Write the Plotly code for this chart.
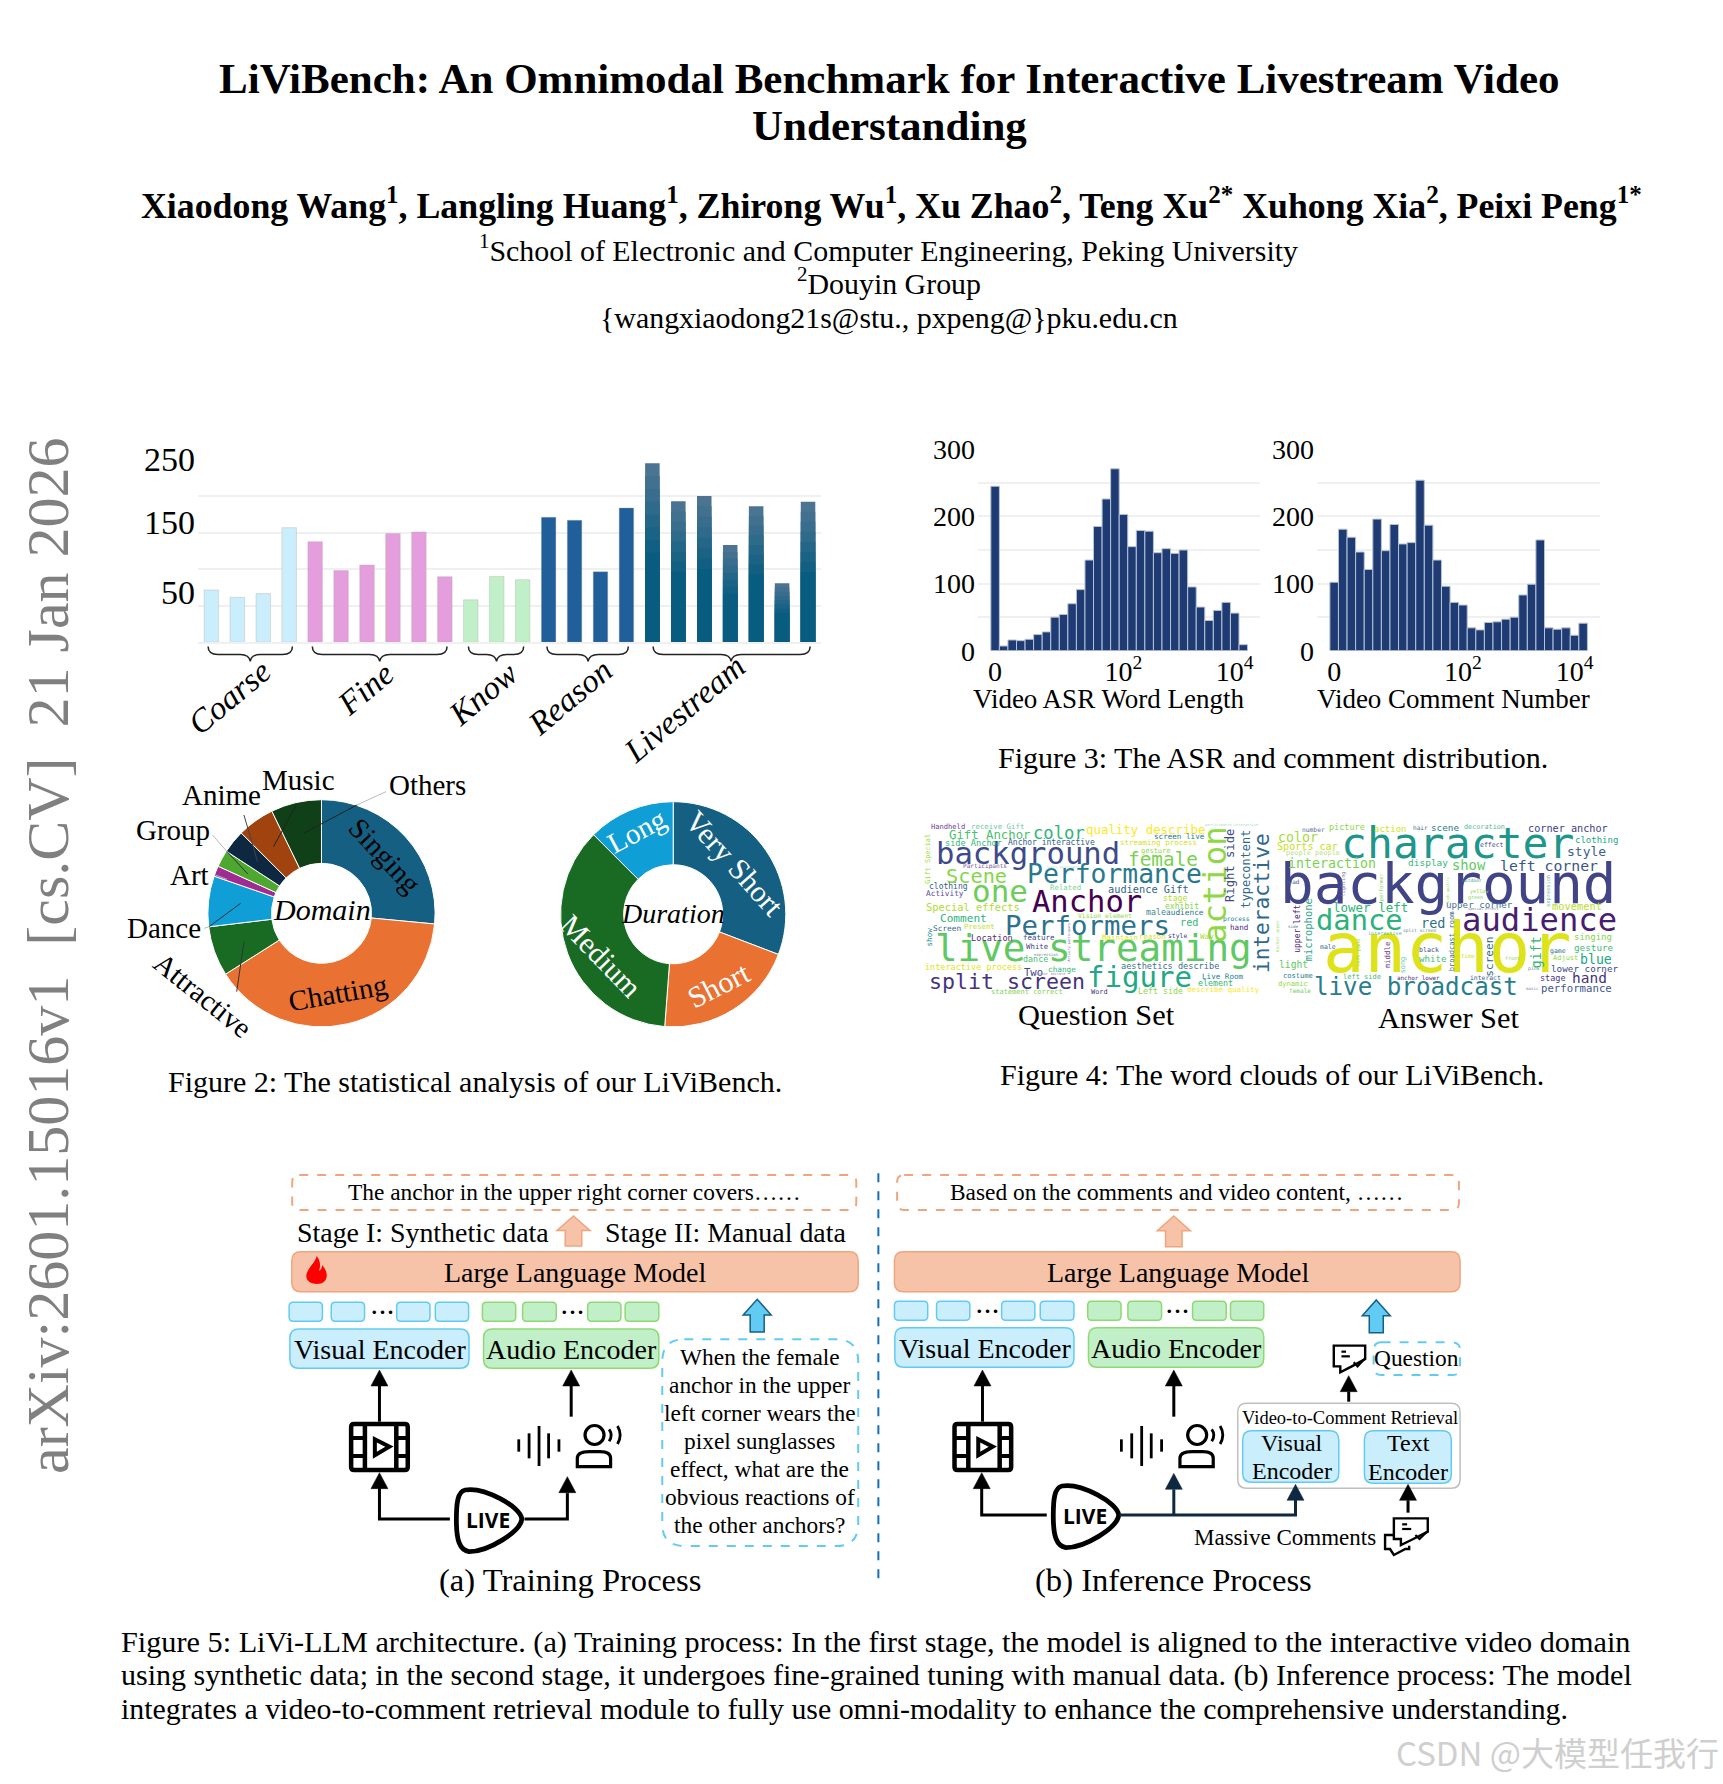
import plotly.graph_objects as go

W, H = 1723, 1784
SERIF = "Liberation Serif"
MONO = "DejaVu Sans Mono"

# ---------- chart data ----------
coarse = [71.5, 61.5, 66.5, 156.6]
fine = [137.5, 98, 105.6, 148.5, 150.7, 89.7]
know = [58, 90, 85.6]
reason = [170.8, 166.7, 96.5, 183.5]
livestream = [244.5, 192.6, 200, 133, 186, 80.6, 192]
group_labels = ["Coarse", "Fine", "Know", "Reason", "Livestream"]

domain_labels = ["Singing", "Chatting", "Attractive", "Dance", "Art", "Group", "Anime", "Music", "Others"]
domain_values = [26.5, 39.5, 7.1, 7.2, 1.5, 2.4, 3.3, 5.3, 7.2]
domain_colors = ["#156082", "#E97132", "#196B24", "#0F9ED5", "#A02B93", "#4EA72E", "#0E2841", "#A0430F", "#0F4018"]
duration_labels = ["Very Short", "Short", "Medium", "Long"]
duration_values = [30.8, 20.4, 36.3, 12.5]
duration_colors = ["#156082", "#E97132", "#196B24", "#0F9ED5"]

asr_hist = [245, 7, 16, 15, 17, 24, 28, 50, 54, 70, 91, 135, 185, 226, 271, 203, 155, 179, 178, 146, 152, 145, 150, 95, 65, 45, 60, 72, 56, 9]
comment_hist = [102, 181, 169, 147, 121, 196, 149, 188, 159, 161, 254, 187, 135, 96, 72, 68, 34, 31, 42, 43, 47, 50, 83, 99, 165, 34, 32, 34, 23, 41]
hist_tick_pos = [0, 15, 28]
hist_tick_text = ["0", "10<sup>2</sup>", "10<sup>4</sup>"]

# word clouds: word, left, right, centre (or centre, top, bottom for rotated), colour
cloud_q = [
    ("background", 62, 615, 145, "#3e4a89"), ("live streaming", 60, 1010, 430, "#5ec962"), ("Anchor", 350, 680, 290, "#440154"),
    ("Performers", 270, 765, 362, "#2c728e"), ("Performance", 335, 860, 207, "#29798e"), ("one", 172, 340, 258, "#6ccd5a"),
    ("figure", 515, 830, 515, "#22a884"), ("split screen", 42, 510, 530, "#46337e"), ("Scene", 92, 275, 212, "#86d549"),
    ("female", 640, 850, 165, "#7ad151"), ("color", 355, 510, 83, "#2fb47c"), ("quality describe", 512, 870, 72, "#fde725"),
    ("Gift Anchor", 100, 345, 90, "#4ac16d"), ("side Anchor", 92, 262, 113, "#35b779"), ("Anchor interactive", 280, 540, 113, "#33638d"),
    ("streaming process", 615, 845, 113, "#d0e11c"), ("screen live", 720, 870, 95, "#2a788e"), ("gesture", 680, 768, 137, "#8fd744"),
    ("Handheld", 47, 150, 65, "#6a3d8f"), ("receive Gift", 168, 328, 65, "#73c9a5"), ("Participants", 143, 275, 184, "#7a5195"),
    ("clothing", 42, 158, 245, "#35608d"), ("Activity", 33, 145, 267, "#5a4a9a"), ("Related", 405, 498, 248, "#7fd397"),
    ("audience Gift", 578, 820, 252, "#33638d"), ("stage", 745, 818, 278, "#b5de2b"), ("exhibit", 750, 852, 302, "#86d549"),
    ("Special effects", 33, 315, 305, "#addc30"), ("Comment", 75, 215, 340, "#2db27d"), ("male", 692, 752, 322, "#3b8a8c"),
    ("audience", 755, 868, 322, "#2c728e"), ("Vision element", 488, 650, 332, "#90d743"), ("red", 795, 850, 352, "#35b779"),
    ("process", 925, 1005, 342, "#26828e"), ("Screen", 55, 140, 369, "#31688e"), ("Present", 148, 240, 365, "#c2df23"),
    ("hand", 945, 1000, 368, "#482878"), ("Location", 170, 295, 398, "#5c2a80"), ("feature", 325, 420, 398, "#3e4989"),
    ("Maintain", 562, 670, 398, "#e5e419"), ("reason", 672, 752, 395, "#d8e219"), ("style", 760, 818, 393, "#46327e"),
    ("Way", 857, 898, 395, "#a5db36"), ("White", 333, 400, 423, "#3f4889"), ("dance", 322, 398, 463, "#4ac16d"),
    ("interactive process", 30, 322, 487, "#e2e418"), ("change", 400, 483, 493, "#35b779"), ("Two", 328, 385, 500, "#3e4989"),
    ("aesthetics describe", 618, 912, 483, "#3e6f90"), ("Live Room", 862, 985, 513, "#26828e"), ("element", 850, 955, 535, "#35b779"),
    ("Left side", 670, 805, 558, "#8fd744"), ("describe quality", 818, 1035, 555, "#fde725"), ("statement correct", 228, 442, 560, "#7fd34e"),
    ("Word", 528, 578, 560, "#46327e"), ("participants interactive", 870, 1030, 60, "#a8e0c0"), ("Anchor imitate", 360, 450, 506, "#9a8ab8"),
    ("expression", 358, 430, 450, "#6a8aa8"), ("supply participants", 395, 495, 186, "#a0d8c0"),
]
cloud_q_v = [
    ("action", 900, 65, 415, "#8fd744"), ("Right side", 945, 70, 290, "#3e4989"),
    ("typecontent", 990, 75, 312, "#31688e"), ("show", 42, 370, 425, "#21918c"), ("Gift Special", 40, 85, 235, "#9bd93c"),
    ("Activity participate", 462, 355, 470, "#6a5a9a"),
]
cloud_a = [
    ("background", 75, 1085, 235, "#414487"), ("anchor", 205, 950, 428, "#dde318"), ("character", 260, 960, 115, "#1f968b"),
    ("audience", 620, 1085, 345, "#481d6f"), ("dance", 185, 445, 345, "#2db27d"), ("live broadcast", 178, 790, 547, "#287d8e"),
    ("left corner", 735, 1030, 180, "#39568c"), ("interaction", 100, 365, 175, "#7ad151"), ("show", 592, 692, 180, "#5ec962"),
    ("display", 460, 580, 172, "#32b67a"), ("color", 70, 190, 97, "#a5db36"), ("Sports car", 68, 250, 125, "#c8e020"),
    ("people people", 92, 255, 145, "#b8de8a"), ("corner anchor", 818, 1058, 70, "#433e85"), ("clothing", 960, 1090, 104, "#22a785"),
    ("style", 935, 1052, 140, "#3e6089"), ("picture", 222, 330, 67, "#8bd646"), ("action", 358, 455, 72, "#d8e219"),
    ("scene", 528, 612, 68, "#287c8e"), ("decoration", 628, 750, 65, "#56b8a0"), ("number", 142, 210, 73, "#5a6e9c"),
    ("hair", 476, 520, 68, "#3a6f8e"), ("effect", 675, 745, 120, "#3e4a89"), ("lower left", 235, 460, 306, "#2eb37c"),
    ("upper corner", 572, 772, 297, "#46718e"), ("movement", 892, 1042, 303, "#b8de29"), ("red", 497, 570, 354, "#2c728e"),
    ("singing", 958, 1072, 395, "#7fd34e"), ("gesture", 958, 1075, 427, "#3fbc73"), ("blue", 975, 1070, 463, "#21a585"),
    ("lower corner", 888, 1090, 490, "#3e4a89"), ("hand", 950, 1055, 520, "#46327e"), ("stage", 855, 932, 518, "#453781"),
    ("performance", 860, 1072, 550, "#42578f"), ("Adjust", 892, 968, 460, "#8fd744"), ("game", 885, 932, 438, "#2e6e8e"),
    ("light", 72, 160, 478, "#5ec962"), ("white", 490, 572, 462, "#3fbc73"), ("black", 492, 552, 436, "#3e4a89"),
    ("costume", 85, 175, 512, "#26828e"), ("dynamic", 70, 160, 535, "#8fd744"), ("female", 102, 168, 556, "#6ece58"),
    ("left side", 265, 378, 517, "#3dbc74"), ("anchor lower", 428, 555, 518, "#482878"), ("interact", 645, 738, 518, "#3e5b8e"),
    ("male", 195, 242, 426, "#3e6a8e"), ("split screen", 445, 545, 378, "#5a8a8c"), ("interactive", 338, 440, 383, "#66a8a8"),
    ("green", 640, 685, 278, "#7ad151"), ("yellow", 645, 700, 258, "#8bd646"), ("side", 100, 130, 364, "#46718e"),
    ("special effect", 640, 730, 312, "#8a7ab0"), ("head", 92, 135, 230, "#4a5a90"), ("outdoor", 620, 680, 228, "#3a9a8e"),
    ("time", 618, 660, 452, "#d8e219"), ("front", 750, 795, 458, "#7fd34e"), ("pink", 820, 855, 490, "#6a8aa8"), ("music", 812, 850, 552, "#8a7ab0"),
]
cloud_a_v = [
    ("interactive", 20, 85, 505, "#31688e"), ("upper left", 125, 300, 445, "#482475"), ("microphone", 160, 280, 470, "#33a88a"),
    ("performer", 378, 205, 288, "#7ad151"), ("left pane", 310, 400, 485, "#8fd744"), ("broadcast room", 590, 320, 500, "#3e6a8e"),
    ("screen", 705, 395, 515, "#31688e"), ("gift", 845, 395, 490, "#35b779"), ("middle", 400, 410, 490, "#6a3d8f"),
    ("song", 445, 455, 505, "#5cc8a0"), ("lighting", 265, 200, 275, "#8a7ab0"), ("high quality", 580, 215, 295, "#a0d860"),
    ("expression", 882, 210, 305, "#6ab0a0"), ("Anchor upper", 70, 345, 440, "#a0d860"),
]

title_lines = ["LiViBench: An Omnimodal Benchmark for Interactive Livestream Video", "Understanding"]
authors = ("Xiaodong Wang<sup>1</sup>, Langling Huang<sup>1</sup>, Zhirong Wu<sup>1</sup>, Xu Zhao<sup>2</sup>, "
           "Teng Xu<sup>2*</sup> Xuhong Xia<sup>2</sup>, Peixi Peng<sup>1*</sup>")
fig5_lines = [
    "Figure 5: LiVi-LLM architecture. (a) Training process: In the first stage, the model is aligned to the interactive video domain",
    "using synthetic data; in the second stage, it undergoes fine-grained tuning with manual data. (b) Inference process: The model",
    "integrates a video-to-comment retrieval module to fully use omni-modality to enhance the comprehensive understanding.",
]
question_lines = ["When the female", "anchor in the upper", "left corner wears the", "pixel sunglasses", "effect, what are the", "obvious reactions of", "the other anchors?"]


# ---------- page helpers ----------
def X(x): return round(x / W, 5)
def Y(y): return round(1 - y / H, 5)

shapes, annos = [], []

def T(x, y, text, size=27, color="black", angle=0, family=SERIF, italic=False, bold=False, xanchor="center", yanchor="middle"):
    annos.append(dict(xref="paper", yref="paper", x=X(x), y=Y(y), text=text, showarrow=False, textangle=angle,
                      xanchor=xanchor, yanchor=yanchor, borderpad=0,
                      font=dict(family=family, size=size, color=color, style="italic" if italic else "normal",
                                weight="bold" if bold else "normal")))

def P(x, y): return f"{X(x)},{Y(y)}"

def path(d, fill=None, color=None, lw=1, dash=None):
    s = dict(type="path", xref="paper", yref="paper", path=d, line=dict(color=color or "rgba(0,0,0,0)", width=lw if color else 0))
    if dash: s["line"]["dash"] = dash
    if fill: s["fillcolor"] = fill
    shapes.append(s)

def poly(pts, fill=None, color=None, lw=1, closed=True, dash=None):
    d = "M " + " L ".join(P(*p) for p in pts) + (" Z" if closed else "")
    path(d, fill, color, lw, dash)

def rrect(x0, y0, x1, y1, r, fill=None, color=None, lw=1.5, dash=None):
    d = (f"M {P(x0+r,y0)} L {P(x1-r,y0)} Q {P(x1,y0)} {P(x1,y0+r)} L {P(x1,y1-r)} Q {P(x1,y1)} {P(x1-r,y1)} "
         f"L {P(x0+r,y1)} Q {P(x0,y1)} {P(x0,y1-r)} L {P(x0,y0+r)} Q {P(x0,y0)} {P(x0+r,y0)} Z")
    path(d, fill, color, lw, dash)

def arrow_up(x, y0, y1, color="black", lw=3, hw=8.5, hl=16):
    poly([(x, y0), (x, y1 + hl)], None, color, lw, closed=False)
    poly([(x - hw, y1 + hl), (x + hw, y1 + hl), (x, y1)], color, color, 0.5)

def block_up(x, top, bot, hw, fill, color):
    sw = hw * 0.5
    mid = top + (bot - top) * 0.48
    poly([(x, top), (x + hw, mid), (x + sw, mid), (x + sw, bot), (x - sw, bot), (x - sw, mid), (x - hw, mid)], fill, color, 1.5)


# ---------- Figure 1 chart furniture ----------
Z1 = lambda zx, zy: (100 + zx / 2.063, 420 + zy / 3)
for lab, y in [("250", 459), ("150", 523), ("50", 592)]:
    T(196, y, lab, 34, xanchor="right")

def brace(x0, x1, tip, top, mid, bot, color="#222"):
    d = (f"M {P(x0,top)} Q {P(x0,mid)} {P(x0+10,mid)} L {P(tip-10,mid)} Q {P(tip-1,mid)} {P(tip,bot)} "
         f"Q {P(tip+1,mid)} {P(tip+10,mid)} L {P(x1-10,mid)} Q {P(x1,mid)} {P(x1,top)}")
    path(d, None, color, 1.5)

for zx0, zx1, ztip in [(223, 397, 310), (438, 716, 577), (760, 874, 818), (922, 1090, 1007), (1141, 1465, 1302)]:
    brace(Z1(zx0, 0)[0], Z1(zx1, 0)[0], Z1(ztip, 0)[0], 646.5, 654.5, 661.5)

for lab, (zx, zy) in zip(group_labels, [(268, 832), (548, 808), (790, 822), (970, 832), (1205, 866)]):
    x, y = Z1(zx, zy)
    T(x, y, lab, 33, angle=-40, italic=True)


# ---------- Figure 2 labels ----------
Z2 = lambda zx, zy: (100 + zx / 2.063, 750 + zy / 3)
for pts, col in [
    ([(590, 125), (530, 165)], "#bbbbbb"), ([(530, 165), (420, 250)], "#222222"),
    ([(405, 165), (358, 290)], "#222222"), ([(297, 195), (325, 335)], "#444444"),
    ([(232, 255), (262, 305)], "#bbbbbb"), ([(262, 305), (305, 372)], "#333333"),
    ([(238, 375), (262, 388)], "#bbbbbb"), ([(215, 535), (225, 530)], "#bbbbbb"), ([(225, 530), (290, 460)], "#333333"),
    ([(297, 575), (282, 725)], "#333333"),
]:
    poly([Z2(*p) for p in pts], None, col, 1, closed=False)

def tz2(lab, zx, zy, size=29, angle=0, color="black", italic=False):
    x, y = Z2(zx, zy)
    T(x, y, lab, size, color=color, angle=angle, italic=italic)

tz2("Singing", 587, 315, 29, 47)
tz2("Chatting", 490, 730, 29, -10)
tz2("Domain", 457, 478, 30, italic=True)
tz2("Music", 410, 90)
tz2("Others", 675, 105)
tz2("Anime", 250, 135)
tz2("Group", 150, 240)
tz2("Art", 185, 375)
tz2("Dance", 133, 533)
tz2("Attractive", 212, 735, 29, 39)
tz2("Very Short", 1310, 340, 30, 48, "white")
tz2("Short", 1278, 705, 30, -27, "white")
tz2("Medium", 1033, 618, 30, 46, "white")
tz2("Long", 1107, 243, 29, -28, "white")
tz2("Duration", 1182, 490, 28, italic=True)
T(475.5, 1082, "Figure 2: The statistical analysis of our LiViBench.", 30)


# ---------- word clouds ----------
def clouds(rows, rows_v, x0, y0=805):
    for word, a, b, c, col in rows:
        size = (b - a) / 3 / (0.602 * len(word))
        T(x0 + (a + b) / 6, y0 + c / 3, word, round(size, 1), col, family=MONO)
    for word, c, a, b, col in rows_v:
        size = (b - a) / 3 / (0.602 * len(word))
        T(x0 + c / 3, y0 + (a + b) / 6, word, round(size, 1), col, angle=-90, family=MONO)

clouds(cloud_q, cloud_q_v, 915)
clouds(cloud_a, cloud_a_v, 1255)
T(1096.5, 1015, "Question Set", 30.4)
T(1448.7, 1018, "Answer Set", 30.4)
T(1272, 1074, "Figure 4: The word clouds of our LiViBench.", 30)
T(1272.5, 757, "Figure 3: The ASR and comment distribution.", 30)
T(1109, 699, "Video ASR Word Length", 27)
T(1453, 699, "Video Comment Number", 27)


# ---------- Figure 5 diagram ----------
CB, SB = "#CAEEFB", "#61CBF3"
CG, SG = "#C1F0C8", "#8ED973"
CO, SO = "#F6C3A9", "#EFA57E"

def film(q):
    rrect(*q(0, 0), *q(148, 138), 3, None, "black", 4.5)
    poly([q(36, 0), q(36, 138)], None, "black", 4.5, closed=False)
    poly([q(118, 0), q(118, 138)], None, "black", 4.5, closed=False)
    for yy in (42, 96):
        poly([q(0, yy), q(36, yy)], None, "black", 4, closed=False)
        poly([q(118, yy), q(148, yy)], None, "black", 4, closed=False)
    poly([q(62, 46), q(100, 68), q(62, 94)], None, "black", 4)

def voice(m):
    for zx, a, b in [(0, 40, 77), (27, 22, 97), (53, 0, 120), (78, 22, 97), (105, 40, 77)]:
        poly([m(zx, a), m(zx, b)], None, "black", 2.8, closed=False)
    hx, hy = m(198, 27)
    r = 9.5
    k = 0.55 * r
    path(f"M {P(hx-r,hy)} C {P(hx-r,hy-k)} {P(hx-k,hy-r)} {P(hx,hy-r)} C {P(hx+k,hy-r)} {P(hx+r,hy-k)} {P(hx+r,hy)} "
         f"C {P(hx+r,hy+k)} {P(hx+k,hy+r)} {P(hx,hy+r)} C {P(hx-k,hy+r)} {P(hx-r,hy+k)} {P(hx-r,hy)} Z", None, "black", 3.2)
    a, b, c2, d, e, f = m(153, 122), m(153, 97), m(153, 77), m(185, 77), m(240, 97), m(240, 122)
    path(f"M {P(*a)} L {P(*b)} Q {P(*c2)} {P(*d)} L {P(m(212,77)[0],d[1])} Q {P(*m(240,77))} {P(*e)} L {P(*f)} Z", None, "black", 3.2)
    path(f"M {P(*m(236,10))} Q {P(*m(247,27))} {P(*m(236,46))}", None, "black", 2.8)
    path(f"M {P(*m(258,0))} Q {P(*m(272,27))} {P(*m(258,54))}", None, "black", 2.8)

def live(m):
    path(f"M {P(*m(23,8))} C {P(*m(73,-2))} {P(*m(168,58))} {P(*m(171,95))} C {P(*m(168,133))} {P(*m(83,193))} {P(*m(33,193))} "
         f"C {P(*m(8,188))} {P(*m(0,158))} {P(*m(0,98))} C {P(*m(0,48))} {P(*m(3,13))} {P(*m(23,8))} Z", "white", "black", 4.8)
    x, y = m(83, 98)
    T(x, y, "LIVE", 21, family="Open Sans", bold=True)

def comment(m):
    poly([m(0, 0), m(82, 0), m(82, 40), m(47, 62), m(17, 80), m(17, 62), m(0, 62)], None, "black", 2.4)
    poly([m(20, 18), m(32, 18)], None, "black", 2.2, closed=False)
    poly([m(20, 32), m(42, 32)], None, "black", 2.2, closed=False)
    poly([m(52, 50), m(62, 62), m(80, 40)], None, "black", 2.2, closed=False)

A = lambda zx, zy: (270 + zx / 2.613, 1150 + zy / 3)
B = lambda zx, zy: (860 + zx / 2.613, 1150 + zy / 3)

def rz(m, x0, y0, x1, y1, r, fill=None, color=None, lw=1.5, dash=None):
    rrect(*m(x0, y0), *m(x1, y1), r, fill, color, lw, dash)

def tz(m, zx, zy, text, size=27, **kw):
    T(*m(zx, zy), text, size, **kw)

def az(m, zx, zy0, zy1, **kw):
    x, y0 = m(zx, zy0)
    arrow_up(x, y0, m(zx, zy1)[1], **kw)

DOTS = "• • •"

# panel (a)
rz(A, 58, 75, 1532, 180, 7, None, SO, 2, "dash")
tz(A, 795, 125, "The anchor in the upper right corner covers……", 23.4)
tz(A, 400, 248, "Stage I: Synthetic data", 27.9)
tz(A, 1190, 248, "Stage II: Manual data", 27.9)
block_up(A(793, 0)[0], A(0, 198)[1], A(0, 288)[1], 16.5, CO, SO)
rz(A, 57, 305, 1537, 425, 9, CO, SO, 1.5)
tz(A, 797, 368, "Large Language Model", 28)
path(f"M {P(*A(122,318))} C {P(*A(118,340))} {P(*A(100,350))} {P(*A(95,375))} C {P(*A(93,395))} {P(*A(110,402))} {P(*A(122,402))} "
     f"C {P(*A(140,402))} {P(*A(150,390))} {P(*A(148,372))} C {P(*A(147,360))} {P(*A(140,350))} {P(*A(136,345))} "
     f"C {P(*A(136,355))} {P(*A(132,362))} {P(*A(128,362))} C {P(*A(134,345))} {P(*A(130,330))} {P(*A(122,318))} Z", "#FF0000")
for a, b in [(50, 137), (160, 247), (331, 418), (432, 519)]:
    rz(A, a, 457, b, 514, 4, CB, SB)
for a, b in [(555, 642), (660, 748), (830, 917), (928, 1016)]:
    rz(A, a, 457, b, 514, 4, CG, SG)
tz(A, 293, 488, DOTS, 13, family="Liberation Sans")
tz(A, 790, 488, DOTS, 13, family="Liberation Sans")
rz(A, 52, 537, 520, 655, 9, CB, SB)
tz(A, 287, 598, "Visual Encoder", 28)
rz(A, 558, 537, 1016, 655, 9, CG, SG)
tz(A, 787, 598, "Audio Encoder", 28)
block_up(A(1273, 0)[0], A(0, 448)[1], A(0, 546)[1], 14, SB, "#156082")
rz(A, 1025, 568, 1537, 1188, 22, None, SB, 2, "dash")
for line, zy in zip(question_lines, [620, 705, 790, 873, 958, 1042, 1125]):
    tz(A, 1280, zy, line, 23.4)
az(A, 286, 815, 660)
az(A, 787, 800, 660)
film(lambda a, b: A(212 + a, 822 + b))
voice(lambda a, b: A(650 + a, 828 + b))
live(lambda a, b: A(487 + a, 1012 + b))
poly([A(470, 1107), A(286, 1107), A(286, 1015)], None, "black", 3, closed=False)
x, y0 = A(286, 1015); arrow_up(x, y0, A(0, 968)[1], lw=3)
poly([A(665, 1107), A(777, 1107), A(777, 1030)], None, "black", 3, closed=False)
x, y0 = A(777, 1030); arrow_up(x, y0, A(0, 980)[1], lw=3)
tz(A, 785, 1290, "(a) Training Process", 32.6)

# panel (b)
poly([B(48, 70), B(48, 1305)], None, "#156FB5", 2, closed=False, dash="dash")
rz(B, 97, 75, 1565, 180, 7, None, SO, 2, "dash")
tz(B, 828, 125, "Based on the comments and video content, ……", 23.4)
block_up(B(820, 0)[0], B(0, 198)[1], B(0, 290)[1], 16.5, CO, SO)
rz(B, 90, 305, 1568, 425, 9, CO, SO, 1.5)
tz(B, 830, 368, "Large Language Model", 28)
for a, b in [(90, 177), (200, 287), (370, 457), (471, 559)]:
    rz(B, a, 454, b, 511, 4, CB, SB)
for a, b in [(595, 682), (700, 788), (869, 957), (968, 1055)]:
    rz(B, a, 454, b, 511, 4, CG, SG)
tz(B, 333, 485, DOTS, 13, family="Liberation Sans")
tz(B, 830, 485, DOTS, 13, family="Liberation Sans")
rz(B, 91, 533, 559, 652, 9, CB, SB)
tz(B, 327, 594, "Visual Encoder", 28)
rz(B, 597, 533, 1055, 652, 9, CG, SG)
tz(B, 827, 596, "Audio Encoder", 28)
block_up(B(1349, 0)[0], B(0, 450)[1], B(0, 548)[1], 14, SB, "#156082")
comment(lambda a, b: B(1238 + a, 587 + b))
rz(B, 1342, 577, 1568, 675, 8, None, SB, 2, "dash")
tz(B, 1455, 625, "Question", 23.4)
az(B, 1277, 755, 677)
rz(B, 987, 760, 1568, 1015, 9, "white", "#BFBFBF", 1.5)
tz(B, 1280, 803, "Video-to-Comment Retrieval", 18.5)
rz(B, 1000, 842, 1251, 997, 9, CB, SB)
tz(B, 1128, 880, "Visual", 24)
tz(B, 1128, 963, "Encoder", 24)
rz(B, 1318, 842, 1545, 1000, 9, CB, SB)
tz(B, 1432, 880, "Text", 24)
tz(B, 1432, 965, "Encoder", 24)
az(B, 320, 815, 660)
az(B, 820, 800, 660)
film(lambda a, b: B(247 + a, 822 + b))
voice(lambda a, b: B(683 + a, 828 + b))
live(lambda a, b: B(505 + a, 1000 + b))
poly([B(488, 1095), B(318, 1095), B(318, 1015)], None, "black", 3, closed=False)
x, y0 = B(318, 1015); arrow_up(x, y0, B(0, 968)[1], lw=3)
NAVY = "#0E2841"
poly([B(678, 1095), B(1138, 1095), B(1138, 1050)], None, NAVY, 3, closed=False)
x, y0 = B(1138, 1050); arrow_up(x, y0, B(0, 1003)[1], color=NAVY, lw=3)
x, y0 = B(820, 1095); arrow_up(x, y0, B(0, 970)[1], color=NAVY, lw=3)
az(B, 1432, 1088, 1003)
tz(B, 1110, 1163, "Massive Comments", 23)
comment(lambda a, b: B(1395 + a * 1.08, 1105 + b))
poly([B(1395, 1155), B(1372, 1155), B(1372, 1197), B(1385, 1197), B(1395, 1215), B(1425, 1197), B(1435, 1197), B(1435, 1187)], None, "black", 2.4, closed=False)
tz(B, 820, 1290, "(b) Inference Process", 32.6)


# ---------- page text ----------
T(890, 79, title_lines[0], 43, bold=True)
T(890, 125, title_lines[1], 43, bold=True)
T(892, 203, authors, 35.8, bold=True)
T(889, 248.5, "<sup>1</sup>School of Electronic and Computer Engineering, Peking University", 29.9)
T(889, 281.5, "<sup>2</sup>Douyin Group", 29.9)
T(889, 318, "{wangxiaodong21s@stu., pxpeng@}pku.edu.cn", 29.9)
for line, y, fs in zip(fig5_lines, [1642, 1675, 1708], [30.25, 30.05, 29.85]):
    T(120, y, line, fs, xanchor="left")
T(48, 956, "arXiv:2601.15016v1  [cs.CV]  21 Jan 2026", 60, color="#808080", angle=-90)
T(1557, 1752, "CSDN @大模型任我行", 33, color="#cfcfcf", family="Noto Sans CJK SC")


# ---------- traces ----------
def lerp(c0, c1, t):
    a = [int(c0[i:i + 2], 16) for i in (1, 3, 5)]
    b = [int(c1[i:i + 2], 16) for i in (1, 3, 5)]
    return "#" + "".join(f"{round(p + (q - p) * t):02x}" for p, q in zip(a, b))

fig = go.Figure()
pos = 0
for vals, col in [(coarse, "#CAEEFB"), (fine, "#E59EDD"), (know, "#C1F0C8"), (reason, "#215F9A")]:
    xs = list(range(pos, pos + len(vals)))
    fig.add_trace(go.Bar(x=xs, y=vals, width=0.56, marker=dict(color=col, line=dict(color="rgba(170,170,170,0.35)", width=1)), xaxis="x", yaxis="y"))
    pos += len(vals)
xs = list(range(pos, pos + len(livestream)))
steps = 8
for i in range(steps):
    frac = 1 - i * 0.5 / (steps - 1)
    fig.add_trace(go.Bar(x=xs, y=[v * frac for v in livestream], width=0.56,
                         marker=dict(color=lerp("#4B7492", "#075C80", i / (steps - 1)), line=dict(width=0)), xaxis="x", yaxis="y"))

def dom_x(a, b): return [a / W, b / W]
def dom_y(top, bot): return [1 - bot / H, 1 - top / H]

for name, labels, vals, cols, dx, dy in [
    ("Domain", domain_labels, domain_values, domain_colors, (207.6, 435.4), (799.7, 1026.9)),
    ("Duration", duration_labels, duration_values, duration_colors, (560.5, 785.9), (801.7, 1026.9)),
]:
    fig.add_trace(go.Pie(labels=labels, values=vals, name=name, sort=False, direction="clockwise", rotation=0, hole=0.44,
                         textinfo="none", marker=dict(colors=cols, line=dict(color="#ffffff", width=1)),
                         domain=dict(x=dom_x(*dx), y=dom_y(*dy))))

HIST = "#1F3B73"
for vals, xa, ya in [(asr_hist, "x2", "y2"), (comment_hist, "x3", "y3")]:
    fig.add_trace(go.Bar(x=list(range(len(vals))), y=vals, width=1, xaxis=xa, yaxis=ya,
                         marker=dict(color=HIST, line=dict(color="#B8C2D4", width=1))))

GRID = "#F0F0F0"
def hist_axes(dx, yname):
    xa = dict(domain=dom_x(*dx), range=[-2, 31], showgrid=False, zeroline=False, showline=False, ticks="", ticklen=0,
              ticklabelstandoff=1, tickmode="array", tickvals=hist_tick_pos, ticktext=hist_tick_text,
              tickfont=dict(family=SERIF, size=28, color="black"), automargin=False, anchor=yname)
    ya = dict(domain=dom_y(449.3, 650.7), range=[0, 300], tickmode="array", tickvals=list(range(0, 301, 50)),
              ticktext=["0", " ", "100", " ", "200", " ", "300"], tickfont=dict(family=SERIF, size=28, color="black"),
              showgrid=True, gridcolor=GRID, gridwidth=2, zeroline=False, ticks="", automargin=False, anchor="x" + yname[1:],
              ticklabelstandoff=2)
    return xa, ya

xa2, ya2 = hist_axes((978, 1260.4), "y2")
xa3, ya3 = hist_axes((1317, 1600.3), "y3")

fig.update_layout(
    width=W, height=H, autosize=False, margin=dict(l=0, r=0, t=0, b=0, pad=0), showlegend=False,
    paper_bgcolor="white", plot_bgcolor="white", barmode="overlay", hovermode=False,
    font=dict(family=SERIF, color="black"),
    xaxis=dict(domain=dom_x(198.4, 821), range=[-0.5, 23.5], showticklabels=False, ticks="", showgrid=False, zeroline=False,
               showline=True, linecolor=GRID, linewidth=2, automargin=False),
    yaxis=dict(domain=dom_y(459.3, 642.3), range=[0, 250], dtick=50, showticklabels=False, ticks="", gridcolor=GRID, gridwidth=2,
               zeroline=False, automargin=False),
    xaxis2=xa2, yaxis2=ya2, xaxis3=xa3, yaxis3=ya3,
    shapes=shapes, annotations=annos,
)

fig.write_html("out.html", config={"displayModeBar": False},
               post_script="document.body.style.margin='0';document.documentElement.style.overflow='hidden';")
